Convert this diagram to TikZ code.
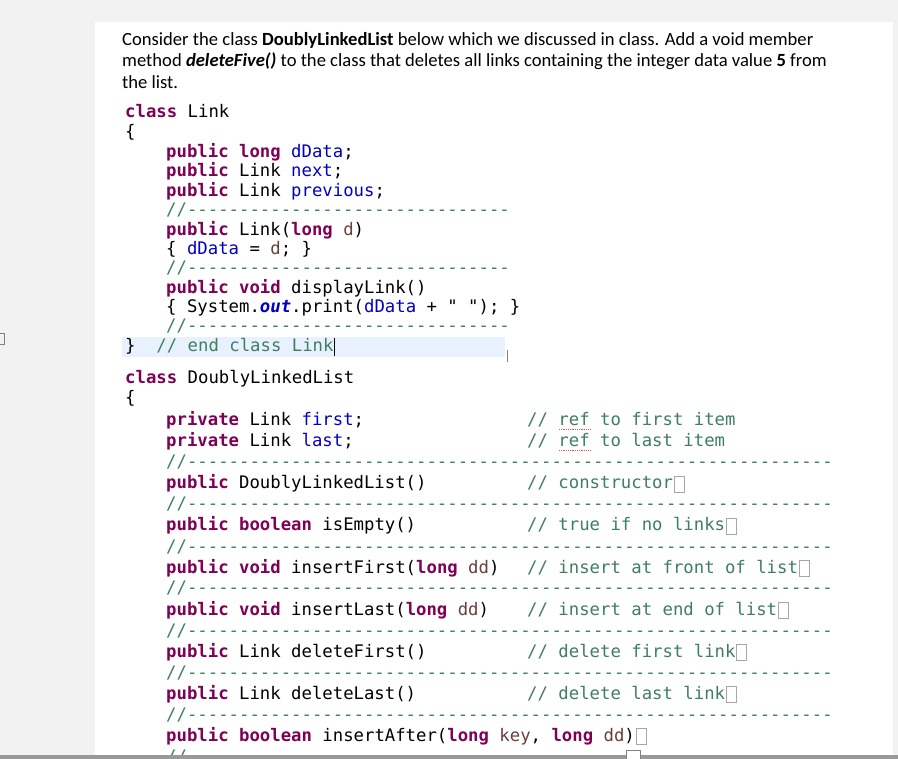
\documentclass[tikz,border=0pt]{standalone}
\usepackage{fontspec}
\setmainfont{Carlito}
\setmonofont{DejaVu Sans Mono}
\definecolor{kwcol}{HTML}{7F0055}
\definecolor{fldcol}{HTML}{0000C0}
\definecolor{cmcol}{HTML}{3F7F5F}
\definecolor{prmcol}{HTML}{6A3E3E}
\definecolor{pagebg}{HTML}{F2F2F2}
\definecolor{hlcol}{HTML}{E8F2FE}
\newcommand\kw[1]{\textcolor{kwcol}{\textbf{#1}}}
\newcommand\fld[1]{\textcolor{fldcol}{#1}}
\newcommand\cm[1]{\textcolor{cmcol}{#1}}
\newcommand\prm[1]{\textcolor{prmcol}{#1}}
\newcommand\hyph[1]{\foreach\i in {1,...,#1}{-}}
\tikzset{
  codetext/.style={anchor=base west, inner sep=0pt, font=\ttfamily\fontsize{17.3}{20}\selectfont},
  prosetext/.style={anchor=base west, inner sep=0pt, font=\fontsize{18.6}{22}\selectfont},
  endbox/.style={draw=gray!70, line width=0.6pt}
}
\begin{document}
\begin{tikzpicture}[x=1pt, y=-1pt]
    \useasboundingbox (0,0) rectangle (898,759);
    \fill[pagebg] (0,0) rectangle (898,759);
    \fill[white] (95,22) rectangle (893,759);
    \fill[hlcol] (122,337) rectangle (505,357);

    % question text
    \node[prosetext] (q1) at (122,46) {Consider the class \textbf{DoublyLinkedList} below which we discussed in class. Add a void member};
    \node[prosetext] (q2) at (122,67) {method \textbf{\textit{deleteFive()}} to the class that deletes all links containing the integer data value \textbf{5} from};
    \node[prosetext] (q3) at (122,89) {the list.};

    % class Link
    \node[codetext] (c1) at (125,118) {\kw{class} Link};
    \node[codetext] (c2) at (125,138) {\{};
    \node[codetext] (c3) at (166,158) {\kw{public} \kw{long} \fld{dData};};
    \node[codetext] (c4) at (166,177) {\kw{public} Link \fld{next};};
    \node[codetext] (c5) at (166,197) {\kw{public} Link \fld{previous};};
    \node[codetext] (c6) at (166,216) {\cm{//\hyph{31}}};
    \node[codetext] (c7) at (166,236) {\kw{public} Link(\kw{long} \prm{d})};
    \node[codetext] (c8) at (166,255) {\{ \fld{dData} = \prm{d}; \}};
    \node[codetext] (c9) at (166,274) {\cm{//\hyph{31}}};
    \node[codetext] (c10) at (166,294) {\kw{public} \kw{void} displayLink()};
    \node[codetext] (c11) at (166,313) {\{ System.\textcolor{fldcol}{\textbf{\textit{out}}}.print(\fld{dData} + " "); \}};
    \node[codetext] (c12) at (166,332) {\cm{//\hyph{31}}};
    \node[codetext] (c13) at (125,352) {\}\ \ \cm{// end class Link}};
    \draw[black, line width=0.8pt] ([xshift=1pt]c13.base east) ++(0,4) -- ++(0,-18);
    \draw[gray, line width=0.6pt] (507,350) -- (507,362);

    % class DoublyLinkedList
    \node[codetext] (d1) at (125,384) {\kw{class} DoublyLinkedList};
    \node[codetext] (d2) at (125,404) {\{};
    \node[codetext] (d3) at (166,426) {\kw{private} Link \fld{first};};
    \node[codetext] (d3c) at (527,426) {\cm{// ref to first item}};
    \node[codetext] (d4) at (166,447) {\kw{private} Link \fld{last};};
    \node[codetext] (d4c) at (527,447) {\cm{// ref to last item}};
    \draw[red!70, densely dotted, line width=0.8pt] (559,429) -- (590,429) (559,450) -- (590,450);
    \foreach \yy in {468,510,552,594,636,678,720,762}
      \node[codetext] at (166,\yy) {\cm{//\hyph{62}}};
    \node[codetext] (d5) at (166,489) {\kw{public} DoublyLinkedList()};
    \node[codetext] (d5c) at (527,489) {\cm{// constructor}};
    \node[codetext] (d6) at (166,531) {\kw{public} \kw{boolean} isEmpty()};
    \node[codetext] (d6c) at (527,531) {\cm{// true if no links}};
    \node[codetext] (d7) at (166,573) {\kw{public} \kw{void} insertFirst(\kw{long} \prm{dd})};
    \node[codetext] (d7c) at (527,573) {\cm{// insert at front of list}};
    \node[codetext] (d8) at (166,615) {\kw{public} \kw{void} insertLast(\kw{long} \prm{dd})};
    \node[codetext] (d8c) at (527,615) {\cm{// insert at end of list}};
    \node[codetext] (d9) at (166,657) {\kw{public} Link deleteFirst()};
    \node[codetext] (d9c) at (527,657) {\cm{// delete first link}};
    \node[codetext] (d10) at (166,699) {\kw{public} Link deleteLast()};
    \node[codetext] (d10c) at (527,699) {\cm{// delete last link}};
    \node[codetext] (d11) at (166,741) {\kw{public} \kw{boolean} insertAfter(\kw{long} \prm{key}, \kw{long} \prm{dd})};

    % end-of-line marks
    \foreach \nn in {d5c,d6c,d7c,d8c,d9c,d10c,d11}
      \draw[endbox] ([xshift=1pt]\nn.base east) ++(0,3) rectangle ++(10,-16);

    % window edges
    \draw[gray, line width=1pt] (0,334) -- (4,334) -- (4,345) -- (0,345);
    \fill[gray!80] (0,755) rectangle (898,759);
    \filldraw[fill=white, draw=gray] (626,750) rectangle (640,759);
\end{tikzpicture}
\end{document}
